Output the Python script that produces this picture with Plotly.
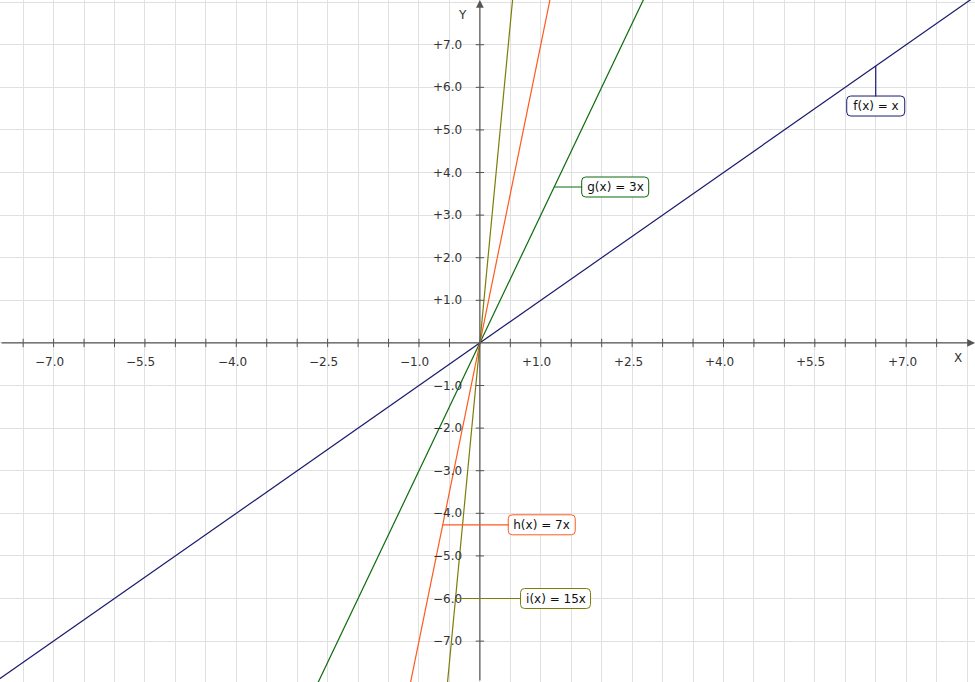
import plotly.graph_objects as go

# ---- data ----
func_names = ["f(x) = x", "g(x) = 3x", "h(x) = 7x", "i(x) = 15x"]
slopes = [1, 3, 7, 15]
label_x = [6.5, 1.22, -0.61, -0.4]

x_range = [-7.88, 8.13]
y_range = [-7.96, 8.05]

x_tick_vals = [-7.5, -7.0, -6.5, -6.0, -5.5, -5.0, -4.5, -4.0, -3.5, -3.0, -2.5, -2.0, -1.5, -1.0, -0.5,
               0.5, 1.0, 1.5, 2.0, 2.5, 3.0, 3.5, 4.0, 4.5, 5.0, 5.5, 6.0, 6.5, 7.0, 7.5]
x_label_vals = [-7.0, -5.5, -4.0, -2.5, -1.0, 1.0, 2.5, 4.0, 5.5, 7.0]
x_label_text = ["\u22127.0", "\u22125.5", "\u22124.0", "\u22122.5", "\u22121.0",
                "+1.0", "+2.5", "+4.0", "+5.5", "+7.0"]
y_tick_vals = [-7, -6, -5, -4, -3, -2, -1, 1, 2, 3, 4, 5, 6, 7]
y_label_text = ["\u22127.0", "\u22126.0", "\u22125.0", "\u22124.0", "\u22123.0", "\u22122.0", "\u22121.0",
                "+1.0", "+2.0", "+3.0", "+4.0", "+5.0", "+6.0", "+7.0"]

# ---- style ----
colors = ["#1a1a6e", "#0b6b0b", "#ff5a1f", "#7d7d0a"]
label_ax = [0, 61, 99, 100]      # pixel offsets of label boxes
label_ay = [40, 0, 0, 0]
box_w = [58, 67, 67, 70]
box_h = 20
FONT = "DejaVu Sans"
AXIS_COLOR = "#555555"
TEXT_COLOR = "#333333"
GRID_COLOR = "#e0e0e0"


def rounded_rect(cx, cy, w, h, r):
    x0, x1 = cx - w / 2, cx + w / 2
    y0, y1 = cy - h / 2, cy + h / 2
    return (f"M{x0 + r},{y0} L{x1 - r},{y0} Q{x1},{y0} {x1},{y0 + r} "
            f"L{x1},{y1 - r} Q{x1},{y1} {x1 - r},{y1} L{x0 + r},{y1} "
            f"Q{x0},{y1} {x0},{y1 - r} L{x0},{y0 + r} Q{x0},{y0} {x0 + r},{y0} Z")


fig = go.Figure()

# function lines
line_x = [-9.0, 9.0]
for name, k, c in zip(func_names, slopes, colors):
    fig.add_trace(go.Scatter(x=line_x, y=[k * v for v in line_x], mode="lines",
                             line=dict(color=c, width=1.2), name=name,
                             hoverinfo="skip", showlegend=False))

# tick marks
fig.add_trace(go.Scatter(x=x_tick_vals, y=[0] * len(x_tick_vals), mode="markers",
                         marker=dict(symbol="line-ns-open", size=6, color=AXIS_COLOR,
                                     line=dict(color=AXIS_COLOR, width=1)),
                         hoverinfo="skip", showlegend=False))
fig.add_trace(go.Scatter(x=[0] * len(y_tick_vals), y=y_tick_vals, mode="markers",
                         marker=dict(symbol="line-ew-open", size=6, color=AXIS_COLOR,
                                     line=dict(color=AXIS_COLOR, width=1)),
                         hoverinfo="skip", showlegend=False))

annotations = []
shapes = []
# axes with arrows
annotations.append(dict(x=x_range[1], y=0, ax=x_range[0], ay=0, xref="x", yref="y",
                        axref="x", ayref="y", text="", showarrow=True, arrowhead=2,
                        arrowsize=1.3, arrowwidth=1.2, arrowcolor=AXIS_COLOR))
annotations.append(dict(x=0, y=y_range[1], ax=0, ay=y_range[0], xref="x", yref="y",
                        axref="x", ayref="y", text="", showarrow=True, arrowhead=2,
                        arrowsize=1.3, arrowwidth=1.2, arrowcolor=AXIS_COLOR))
# axis names
annotations.append(dict(x=x_range[1], y=0, xref="x", yref="y", text="X", showarrow=False,
                        xanchor="right", yanchor="top", xshift=-11, yshift=-6,
                        font=dict(family=FONT, size=12, color=TEXT_COLOR)))
annotations.append(dict(x=0, y=y_range[1], xref="x", yref="y", text="Y", showarrow=False,
                        xanchor="right", yanchor="top", xshift=-11, yshift=-6,
                        font=dict(family=FONT, size=12, color=TEXT_COLOR)))

# tick labels
for v, t in zip(x_label_vals, x_label_text):
    annotations.append(dict(x=v, y=0, xref="x", yref="y", text=t, showarrow=False,
                            xanchor="center", yanchor="middle", xshift=-4, yshift=-19,
                            font=dict(family=FONT, size=12, color=TEXT_COLOR)))
for v, t in zip(y_tick_vals, y_label_text):
    annotations.append(dict(x=0, y=v, xref="x", yref="y", text=t, showarrow=False,
                            xanchor="right", yanchor="middle", xshift=-16,
                            font=dict(family=FONT, size=12, color=TEXT_COLOR)))

# function labels (rounded box + leader line)
for name, k, c, lx, axp, ayp, w in zip(func_names, slopes, colors, label_x,
                                       label_ax, label_ay, box_w):
    ly = k * lx
    shapes.append(dict(type="path", xref="x", yref="y", xsizemode="pixel",
                       ysizemode="pixel", xanchor=lx, yanchor=ly,
                       path=rounded_rect(axp, -ayp, w, box_h, 4),
                       fillcolor="white", line=dict(color=c, width=1), layer="above"))
    annotations.append(dict(x=lx, y=ly, xref="x", yref="y", text=name,
                            showarrow=True, arrowhead=0, arrowwidth=1.2, arrowcolor=c,
                            ax=axp, ay=ayp, width=w - 2, height=box_h - 2,
                            bgcolor="rgba(0,0,0,0)", bordercolor="rgba(0,0,0,0)",
                            borderwidth=1, borderpad=0, align="center", valign="middle",
                            font=dict(family=FONT, size=12, color="#111111")))

fig.update_layout(
    width=975, height=682,
    margin=dict(l=0, r=0, t=0, b=0),
    paper_bgcolor="white", plot_bgcolor="white",
    annotations=annotations, shapes=shapes,
    xaxis=dict(range=x_range, showgrid=True, gridcolor=GRID_COLOR, gridwidth=1,
               tick0=0, dtick=0.5, showticklabels=False, zeroline=False,
               showline=False, ticks="", fixedrange=True),
    yaxis=dict(range=y_range, showgrid=True, gridcolor=GRID_COLOR, gridwidth=1,
               tick0=0, dtick=1, showticklabels=False, zeroline=False,
               showline=False, ticks="", fixedrange=True),
)

fig.write_html("out.html", config={"displayModeBar": False},
               post_script="document.body.style.margin='0';")
